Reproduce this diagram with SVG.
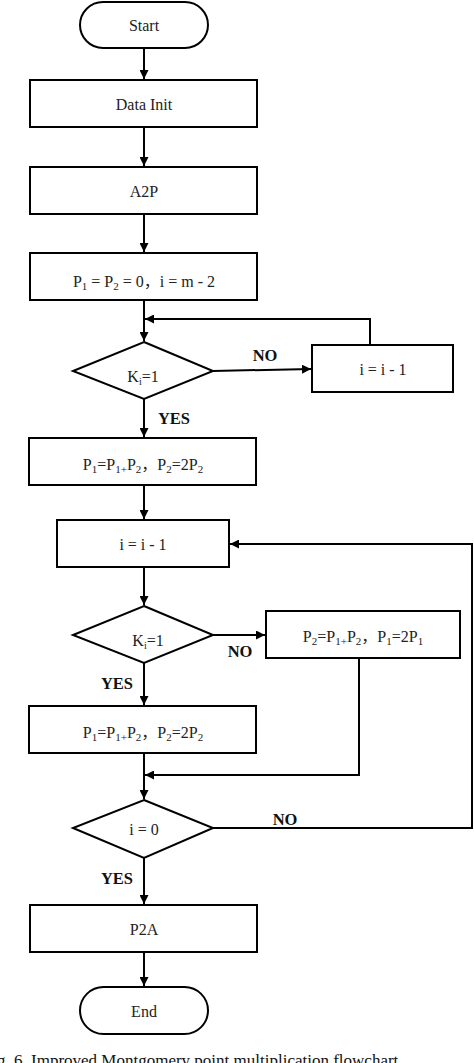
<svg xmlns="http://www.w3.org/2000/svg" width="474" height="1063" viewBox="0 0 474 1063">
<defs>
<marker id="arr" viewBox="0 0 10 10" refX="10" refY="5" markerWidth="4.5" markerHeight="4.5" orient="auto" markerUnits="strokeWidth">
<path d="M0,0 L10,5 L0,10 Z" fill="#000"/>
</marker>
<style>
.shape{fill:#fff;stroke:#000;stroke-width:2}
.t{font-family:"Liberation Serif","Noto Sans CJK SC",serif;font-size:16px;fill:#222;text-anchor:middle}
.lbl{font-family:"Liberation Serif",serif;font-size:16.5px;font-weight:bold;fill:#111;text-anchor:middle}
.c{fill:none;stroke:#000;stroke-width:2}
.cap{font-family:"Liberation Serif",serif;font-size:17px;fill:#111}
</style>
</defs>
<rect width="474" height="1063" fill="#fff"/>
<g id="connectors">
<path class="c" d="M144,48 V79" marker-end="url(#arr)"/>
<path class="c" d="M144,127 V166" marker-end="url(#arr)"/>
<path class="c" d="M144,214 V252" marker-end="url(#arr)"/>
<path class="c" d="M144,300 V341" marker-end="url(#arr)"/>
<path class="c" d="M213,371 L311,369" marker-end="url(#arr)"/>
<path class="c" d="M370,345 V319 H145" marker-end="url(#arr)"/>
<path class="c" d="M144,399 V437" marker-end="url(#arr)"/>
<path class="c" d="M144,485 V519" marker-end="url(#arr)"/>
<path class="c" d="M144,567 V605" marker-end="url(#arr)"/>
<path class="c" d="M213,635 H265" marker-end="url(#arr)"/>
<path class="c" d="M144,663 V705" marker-end="url(#arr)"/>
<path class="c" d="M144,753 V799" marker-end="url(#arr)"/>
<path class="c" d="M359,658 V775 H145" marker-end="url(#arr)"/>
<path class="c" d="M213,828 H472 V544 H230" marker-end="url(#arr)"/>
<path class="c" d="M144,858 V904" marker-end="url(#arr)"/>
<path class="c" d="M144,952 V986" marker-end="url(#arr)"/>
</g>
<g id="start">
<rect class="shape" x="80" y="2" width="128" height="46" rx="23"/>
<text class="t" x="144" y="31" font-size="17">Start</text>
</g>
<g id="data-init">
<rect class="shape" x="30" y="80" width="227" height="47"/>
<text class="t" x="144" y="110">Data Init</text>
</g>
<g id="a2p">
<rect class="shape" x="30" y="167" width="227" height="47"/>
<text class="t" x="144" y="197">A2P</text>
</g>
<g id="init-p">
<rect class="shape" x="30" y="253" width="227" height="47"/>
<text class="t" x="144" y="287">P<tspan font-size="11" dy="3">1</tspan><tspan dy="-3"> = P</tspan><tspan font-size="11" dy="3">2</tspan><tspan dy="-3"> = 0，i = m - 2</tspan></text>
</g>
<g id="decision-k1">
<polygon class="shape" points="144,342 213,371 144,399 73,371"/>
<text class="t" x="143" y="382">K<tspan font-size="10" dy="3">i</tspan><tspan dy="-3">=1</tspan></text>
</g>
<g id="dec-i-1">
<rect class="shape" x="312" y="345" width="141" height="47"/>
<text class="t" x="383" y="375">i = i - 1</text>
</g>
<g id="step1">
<rect class="shape" x="29" y="438" width="227" height="47"/>
<text class="t" x="143" y="470">P<tspan font-size="11" dy="3">1</tspan><tspan dy="-3">=P</tspan><tspan font-size="11" dy="3">1+</tspan><tspan dy="-3">P</tspan><tspan font-size="11" dy="3">2</tspan><tspan dy="-3">，P</tspan><tspan font-size="11" dy="3">2</tspan><tspan dy="-3">=2P</tspan><tspan font-size="11" dy="3">2</tspan></text>
</g>
<g id="loop-dec">
<rect class="shape" x="57" y="520" width="172" height="47"/>
<text class="t" x="143" y="550">i = i - 1</text>
</g>
<g id="decision-k2">
<polygon class="shape" points="144,606 213,635 144,663 73,635"/>
<text class="t" x="148" y="646">K<tspan font-size="10" dy="3">i</tspan><tspan dy="-3">=1</tspan></text>
</g>
<g id="step-no">
<rect class="shape" x="266" y="611" width="194" height="47"/>
<text class="t" x="363" y="642">P<tspan font-size="11" dy="3">2</tspan><tspan dy="-3">=P</tspan><tspan font-size="11" dy="3">1+</tspan><tspan dy="-3">P</tspan><tspan font-size="11" dy="3">2</tspan><tspan dy="-3">，P</tspan><tspan font-size="11" dy="3">1</tspan><tspan dy="-3">=2P</tspan><tspan font-size="11" dy="3">1</tspan></text>
</g>
<g id="step-yes">
<rect class="shape" x="29" y="706" width="227" height="47"/>
<text class="t" x="143" y="738">P<tspan font-size="11" dy="3">1</tspan><tspan dy="-3">=P</tspan><tspan font-size="11" dy="3">1+</tspan><tspan dy="-3">P</tspan><tspan font-size="11" dy="3">2</tspan><tspan dy="-3">，P</tspan><tspan font-size="11" dy="3">2</tspan><tspan dy="-3">=2P</tspan><tspan font-size="11" dy="3">2</tspan></text>
</g>
<g id="decision-i0">
<polygon class="shape" points="144,800 213,828 144,858 73,828"/>
<text class="t" x="144" y="835">i = 0</text>
</g>
<g id="p2a">
<rect class="shape" x="30" y="905" width="227" height="47"/>
<text class="t" x="144" y="935">P2A</text>
</g>
<g id="end">
<rect class="shape" x="80" y="987" width="128" height="47" rx="23.5"/>
<text class="t" x="144" y="1017">End</text>
</g>
<g id="labels">
<text class="lbl" x="265" y="361">NO</text>
<text class="lbl" x="174" y="424">YES</text>
<text class="lbl" x="240" y="657">NO</text>
<text class="lbl" x="117" y="689">YES</text>
<text class="lbl" x="285" y="825">NO</text>
<text class="lbl" x="117" y="884">YES</text>
</g>
<text class="cap" x="-3" y="1066">g. 6. Improved Montgomery point multiplication flowchart</text>
</svg>
